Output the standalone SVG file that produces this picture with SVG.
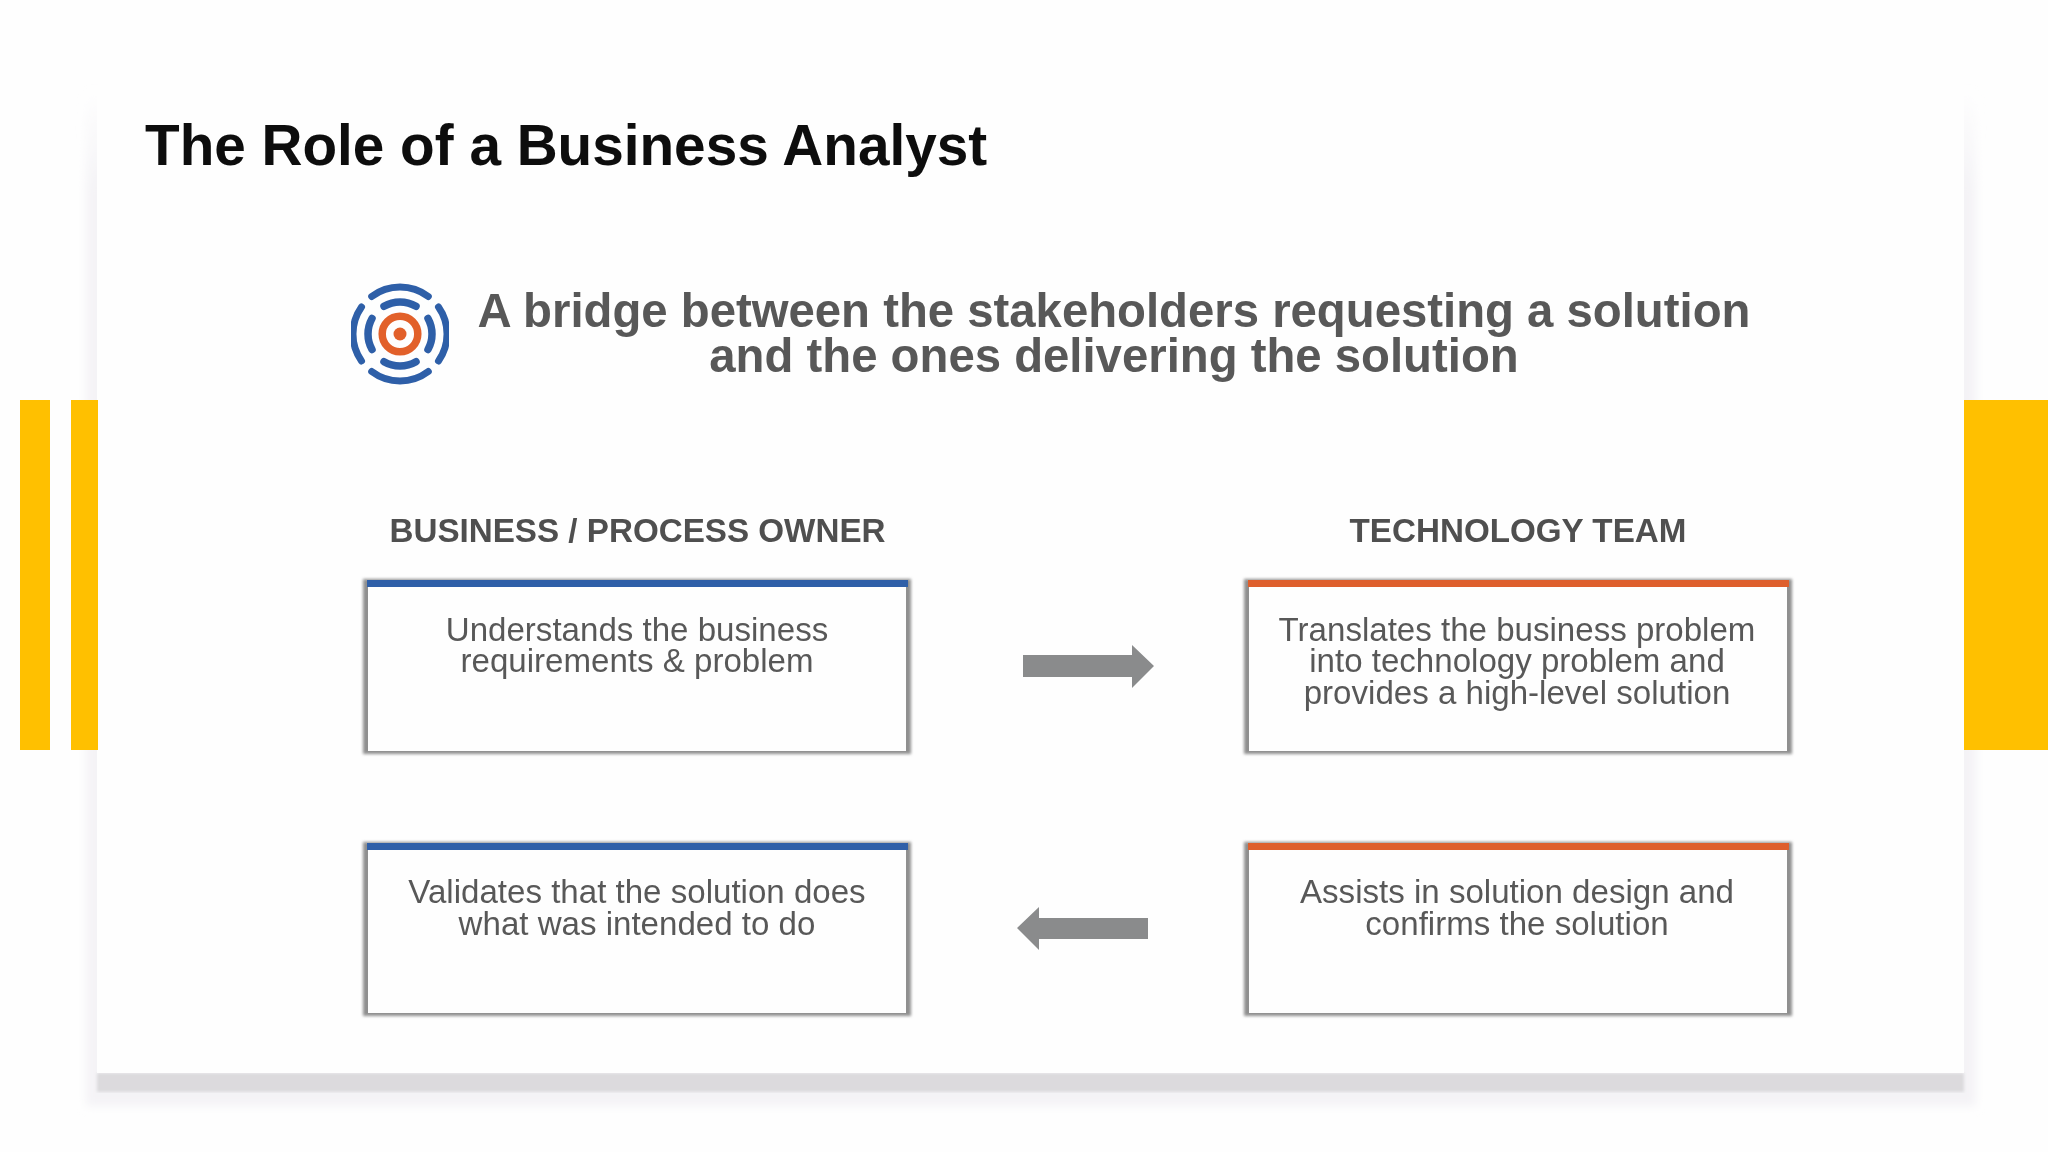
<svg xmlns="http://www.w3.org/2000/svg" width="2048" height="1152" viewBox="0 0 2048 1152">
<defs>
<filter id="soft" x="-5%" y="-5%" width="110%" height="110%"><feGaussianBlur stdDeviation="1.6"/></filter>
<filter id="wide" x="-5%" y="-5%" width="110%" height="110%"><feGaussianBlur stdDeviation="5"/></filter>
<filter id="bl" x="-2%" y="-20%" width="104%" height="140%"><feGaussianBlur stdDeviation="0.5"/></filter>
<linearGradient id="sideFade" x1="0" y1="0" x2="0" y2="1"><stop offset="0" stop-color="#f4f3f6" stop-opacity="0"/><stop offset="0.1" stop-color="#f4f3f6"/></linearGradient>
</defs>
<style>
text{font-family:"Liberation Sans",Arial,sans-serif;text-anchor:middle;filter:url(#bl)}
.title{font-size:56.7px;font-weight:700;fill:#0a0a0a;text-anchor:start}
.lead{font-size:47.3px;font-weight:700;fill:#595959}
.head{font-size:33.2px;font-weight:700;fill:#505050}
.body{font-size:33.1px;fill:#595959}
.yellow{fill:#ffc000}
.frame{fill:#8f8f8f;filter:url(#soft)}
.inner{fill:#fefefe}
.blue{fill:#2f5fa8}
.orange{fill:#de5f2d}
.arc{fill:none;stroke:#2f5fa8;stroke-linecap:round}
.arrow{fill:#8a8b8c}
</style>
<rect width="2048" height="1152" fill="#fefefe"/>
<g id="accents">
<rect class="yellow" x="20" y="400" width="30" height="350"/>
</g>
<g id="panel">
<rect x="86" y="90" width="1890" height="1016" fill="url(#sideFade)" filter="url(#wide)"/>
<rect x="97" y="1073" width="1867" height="19" fill="#dcdadd" filter="url(#soft)"/>
<rect x="97" y="90" width="1867" height="983" fill="#fefefe"/>
<rect class="yellow" x="71" y="400" width="27" height="350"/>
<rect class="yellow" x="1964" y="400" width="84" height="350"/>
</g>
<g id="title"><text class="title" x="145" y="165">The Role of a Business Analyst</text></g>
<g id="icon" filter="url(#bl)">
<path class="arc" stroke-width="7" d="M371.7 296.5A47 47 0 0 1 428.3 296.5M371.7 371.5A47 47 0 0 0 428.3 371.5M361.5 307A47 47 0 0 0 361.5 361M438.5 307A47 47 0 0 1 438.5 361"/>
<path class="arc" stroke-width="7.5" d="M384 306.3A32 32 0 0 1 416 306.3M384 361.7A32 32 0 0 0 416 361.7M372 318.5A32 32 0 0 0 372 349.5M428 318.5A32 32 0 0 1 428 349.5"/>
<circle cx="400" cy="334" r="17.8" fill="none" stroke="#e2602c" stroke-width="7.5"/>
<circle cx="400" cy="334" r="6.5" fill="#e2602c"/>
</g>
<g id="lead">
<text class="lead" x="1114" y="327">A bridge between the stakeholders requesting a solution</text>
<text class="lead" x="1114" y="372">and the ones delivering the solution</text>
</g>
<g id="heading-business"><text class="head" x="637.5" y="542">BUSINESS / PROCESS OWNER</text></g>
<g id="heading-technology"><text class="head" x="1518" y="542">TECHNOLOGY TEAM</text></g>
<g id="box-understands">
<rect class="frame" x="363" y="579" width="548" height="175"/>
<rect class="inner" x="368" y="586" width="538" height="165"/>
<rect class="blue" x="367" y="580" width="541" height="7"/>
<text class="body" x="637" y="641">Understands the business</text>
<text class="body" x="637" y="672">requirements &amp; problem</text>
</g>
<g id="box-translates">
<rect class="frame" x="1244" y="579" width="548" height="175"/>
<rect class="inner" x="1249" y="586" width="538" height="165"/>
<rect class="orange" x="1248" y="580" width="541" height="7"/>
<text class="body" x="1517" y="641">Translates the business problem</text>
<text class="body" x="1517" y="672">into technology problem and</text>
<text class="body" x="1517" y="704">provides a high-level solution</text>
</g>
<g id="box-validates">
<rect class="frame" x="363" y="842" width="548" height="174"/>
<rect class="inner" x="368" y="849" width="538" height="164"/>
<rect class="blue" x="367" y="843" width="541" height="7"/>
<text class="body" x="637" y="903">Validates that the solution does</text>
<text class="body" x="637" y="935">what was intended to do</text>
</g>
<g id="box-assists">
<rect class="frame" x="1244" y="842" width="548" height="174"/>
<rect class="inner" x="1249" y="849" width="538" height="164"/>
<rect class="orange" x="1248" y="843" width="541" height="7"/>
<text class="body" x="1517" y="903">Assists in solution design and</text>
<text class="body" x="1517" y="935">confirms the solution</text>
</g>
<g id="connectors">
<polygon class="arrow" points="1023,655 1132,655 1132,645 1154,666 1132,688 1132,677 1023,677"/>
<polygon class="arrow" points="1148,918 1039,918 1039,907 1017,928 1039,950 1039,939 1148,939"/>
</g>
</svg>
